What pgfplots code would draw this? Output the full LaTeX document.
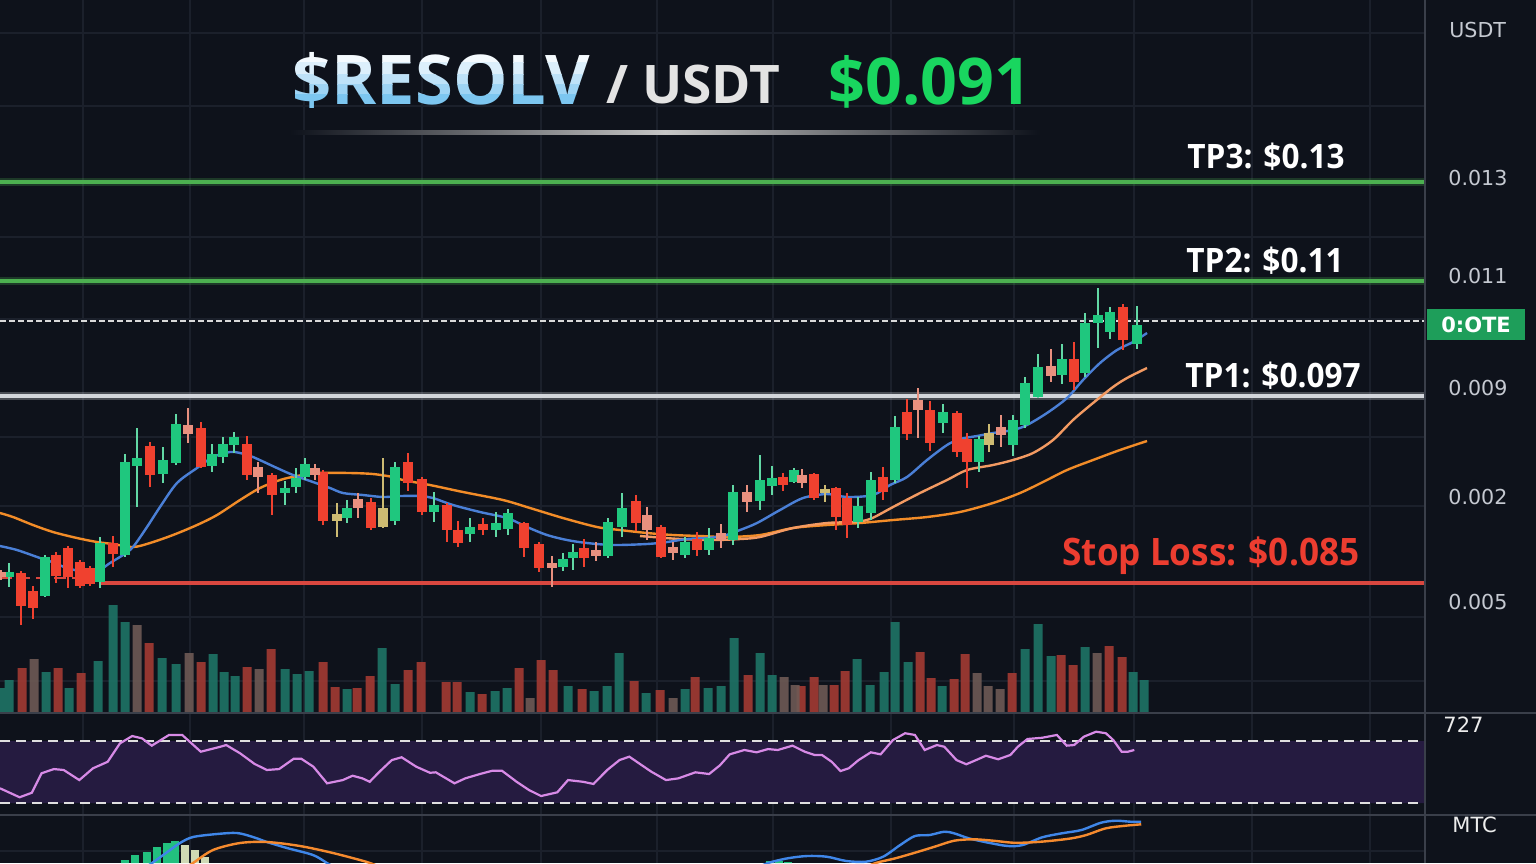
\documentclass[border=0pt]{standalone}
\usepackage{pgfplots}
\pgfplotsset{compat=1.18}
\usepackage{pgfplotstable}
\usepackage{fontspec}
\setmainfont{Open Sans}
\newfontfamily\dejavu{DejaVu Sans}

\definecolor{bg}{HTML}{0E121B}
\definecolor{gridc}{HTML}{1B202B}
\definecolor{sepc}{HTML}{3A3F4A}
\definecolor{cgreen}{HTML}{1FC77E}
\definecolor{cred}{HTML}{F0412F}
\definecolor{csalmon}{HTML}{E8907F}
\definecolor{ctan}{HTML}{CDBB72}
\definecolor{vteal}{HTML}{1E7466}
\definecolor{vred}{HTML}{A33A33}
\definecolor{vbrown}{HTML}{6E5A55}
\definecolor{mablue}{HTML}{4A7FD6}
\definecolor{maorange}{HTML}{F28C28}
\definecolor{mamid}{HTML}{F39A62}
\definecolor{tpgreen}{HTML}{4CB050}
\definecolor{tpwhite}{HTML}{D3D6DB}
\definecolor{slred}{HTML}{D9473F}
\definecolor{rsiline}{HTML}{D78AE6}
\definecolor{rsiband}{HTML}{251B40}
\definecolor{macdblue}{HTML}{3F86E8}
\definecolor{macdorange}{HTML}{F58A2E}
\definecolor{histg}{HTML}{22C07E}
\definecolor{histp}{HTML}{CFD9B4}
\definecolor{axtext}{HTML}{C5C9D1}
\definecolor{tb1}{HTML}{F4FAFE}
\definecolor{tb2}{HTML}{DCEFFB}
\definecolor{tb3}{HTML}{BEE2F8}
\definecolor{tb4}{HTML}{9ED4F4}
\definecolor{tb5}{HTML}{7CC6F0}
\definecolor{pricegreen}{HTML}{19D65F}
\definecolor{otegreen}{HTML}{1E9E5A}
\definecolor{sltext}{HTML}{EC3D30}

% candles: x, wick top, wick bottom, body top, body bottom (pixel rows, y grows downward)
\pgfplotstableread{
x wt wb bt bb
9 563 587 572 577
45 555 597 557 596
100 537 588 543 582
125 454 557 462 555
137 428 507 458 466
163 447 483 460 474
176 414 465 424 463
212 444 472 454 466
223 437 463 444 457
234 432 453 437 445
285 481 505 488 493
296 468 493 478 487
305 458 480 464 477
347 500 523 508 518
395 462 525 467 521
434 492 522 505 512
470 518 542 527 534
496 512 537 523 530
508 509 535 513 529
563 553 571 559 567
573 544 570 552 558
608 518 558 522 556
622 493 537 508 527
685 537 558 542 555
709 528 555 538 550
733 485 545 492 540
760 455 510 480 501
772 466 495 478 486
794 468 483 470 482
858 497 528 506 522
871 472 520 480 513
895 416 483 427 480
943 404 433 412 423
979 436 472 439 462
1013 415 456 420 445
1025 377 428 383 425
1038 354 398 367 397
1062 344 384 359 375
1085 313 377 323 373
1098 288 348 315 323
1110 307 339 312 332
1137 306 349 325 344
}\greencandles
\pgfplotstableread{
x wt wb bt bb
21 571 625 573 606
33 586 619 591 608
56 552 583 555 576
68 546 588 548 577
80 560 588 562 586
90 566 586 568 584
113 536 567 543 554
150 442 487 446 475
201 422 468 428 467
247 436 480 444 475
272 473 515 475 495
323 470 525 472 521
371 498 530 502 528
408 453 491 462 483
422 477 515 479 512
447 503 542 505 530
458 521 547 530 543
483 518 535 524 530
524 522 557 523 548
539 542 572 544 568
584 539 567 548 558
636 495 531 501 523
661 525 558 527 557
697 532 556 539 550
783 473 491 477 485
814 473 500 474 498
836 487 530 488 517
847 493 538 498 525
883 467 500 477 492
907 399 440 412 434
930 401 451 410 443
957 411 457 413 452
967 433 488 439 462
1074 342 390 359 382
1123 304 350 307 340
}\redcandles
\pgfplotstableread{
x wt wb bt bb
1 570 580 572 577
188 408 443 425 434
258 462 493 467 477
315 464 480 468 475
358 493 518 499 508
552 556 587 563 568
596 542 561 550 556
647 507 540 515 530
673 542 560 547 553
721 524 548 533 540
747 485 512 492 502
802 469 488 475 483
918 388 438 400 410
1001 415 447 427 435
1051 349 382 366 376
}\salmoncandles
\pgfplotstableread{
x wt wb bt bb
337 503 537 514 521
383 458 528 508 527
825 485 502 489 493
989 424 452 433 445
}\tancandles

% volume: x, height (pixels)
\pgfplotstableread{
x v
0 24
9 32
46 40
69 24
98 51
113 107
125 90
162 54
176 48
213 58
224 40
235 36
285 43
297 38
309 41
347 23
382 64
395 28
470 20
495 21
507 24
568 26
594 21
607 26
619 59
646 19
685 23
708 24
721 26
734 74
760 59
772 37
857 53
870 27
884 40
895 90
908 50
942 26
1025 63
1038 88
1051 56
1085 65
1133 40
1144 32
}\volteal
\pgfplotstableread{
x v
22 44
58 44
81 39
149 69
201 50
247 45
271 63
323 50
335 25
357 24
370 36
408 42
421 50
446 30
457 30
482 18
519 44
541 52
553 42
582 23
634 31
660 22
695 35
748 37
801 26
814 35
834 27
845 41
920 60
931 34
954 33
965 58
1012 39
1061 57
1073 47
1109 66
1122 55
}\volred
\pgfplotstableread{
x v
34 53
137 87
189 59
259 43
530 14
673 14
784 35
795 27
823 27
977 39
988 26
1000 23
1097 59
}\volbrown

\pgfplotsset{
  panel/.style={scale only axis, width=768pt, xmin=0, xmax=1536, hide axis, anchor=north west},
  wick/.style={draw=none, mark=none, error bars/.cd, y dir=plus, y explicit, error mark=none,
     error bar style={draw=#1, line width=0.8pt}},
  body/.style={draw=none, mark=none, error bars/.cd, y dir=plus, y explicit, error mark=none,
     error bar style={draw=#1, line width=4.8pt}},
}

\begin{document}
\begin{tikzpicture}
\useasboundingbox (0,0) rectangle (768pt,-431.5pt);
\fill[bg] (0,0) rectangle (768pt,-431.5pt);
% grid
\foreach \y in {33,106,237,319,437,506,617,681,777,851}
  \draw[gridc, line width=0.6pt] (0pt,{-\y/2*1pt}) -- (712.5pt,{-\y/2*1pt});
\foreach \x in {83,190,304,422,541,657,773,891,1014,1134,1252,1370}
  \draw[gridc, line width=0.6pt] ({\x/2*1pt},0pt) -- ({\x/2*1pt},-431.5pt);

% volume
\begin{axis}[panel, at={(0pt,0pt)}, height=356pt, ymin=0, ymax=712]
\addplot[ybar, bar width=4.5pt, bar shift=0pt, fill=vteal, draw=none, fill opacity=0.9] table[x=x,y=v] {\volteal};
\addplot[ybar, bar width=4.5pt, bar shift=0pt, fill=vred, draw=none, fill opacity=0.9] table[x=x,y=v] {\volred};
\addplot[ybar, bar width=4.5pt, bar shift=0pt, fill=vbrown, draw=none, fill opacity=0.9] table[x=x,y=v] {\volbrown};
\end{axis}

% price panel
\begin{axis}[panel, at={(0pt,0pt)}, height=356pt, ymin=0, ymax=712, y dir=reverse]
% level lines
\addplot[tpgreen, opacity=0.25, line width=4pt] coordinates {(0,182) (1425,182)};
\addplot[tpgreen, line width=2pt] coordinates {(0,182) (1425,182)};
\addplot[tpgreen, opacity=0.25, line width=4pt] coordinates {(0,281) (1425,281)};
\addplot[tpgreen, line width=2pt] coordinates {(0,281) (1425,281)};
\addplot[white!70!gray, line width=0.6pt, dash pattern=on 3pt off 1.5pt] coordinates {(0,321) (1425,321)};
\addplot[tpwhite, opacity=0.3, line width=4pt] coordinates {(0,396) (1425,396)};
\addplot[tpwhite, line width=2pt] coordinates {(0,396) (1425,396)};
\addplot[slred, line width=0.8pt, dash pattern=on 6pt off 3pt] coordinates {(0,578) (100,578)};
\addplot[slred, line width=2.2pt] coordinates {(100,583) (1425,583)};
% moving averages
\addplot[maorange, line width=1.2pt, smooth] coordinates {(0,513) (13,517) (33,525) (53,532) (77,538) (97,542) (113,544) (133,547) (150,543) (173,535) (197,525) (217,515) (240,500) (260,488) (280,480) (297,476) (317,473) (350,473) (373,474) (393,477) (403,480) (430,485) (463,492) (503,500) (530,508) (563,518) (597,527) (620,530) (647,533) (673,535) (700,536) (727,537) (760,535) (793,528) (827,525) (860,523) (893,520) (927,517) (960,512) (993,503) (1020,493) (1043,482) (1067,470) (1093,460) (1120,450) (1147,441)};
\addplot[mamid, line width=1.2pt, smooth] coordinates {(640,536) (680,539) (713,540) (740,539) (760,537) (793,528) (827,523) (853,522) (870,519) (893,507) (920,493) (947,480) (967,470) (993,465) (1013,460) (1033,453) (1053,440) (1073,420) (1093,403) (1113,387) (1127,378) (1147,368)};
\addplot[mablue, line width=1.2pt, smooth] coordinates {(0,546) (17,550) (40,558) (55,563) (67,568) (90,573) (100,570) (110,563) (123,555) (133,547) (147,527) (160,507) (177,483) (197,468) (213,457) (230,452) (240,453) (253,457) (277,468) (293,475) (313,482) (330,488) (343,493) (363,495) (383,497) (400,496) (423,496) (433,498) (453,505) (480,512) (507,518) (527,527) (547,535) (567,540) (587,543) (613,545) (647,544) (667,542) (687,539) (707,538) (723,536) (740,530) (757,523) (780,510) (803,498) (827,494) (847,497) (873,495) (890,485) (907,477) (927,460) (947,445) (960,439) (977,436) (993,433) (1013,430) (1027,425) (1047,413) (1067,398) (1083,380) (1100,363) (1117,350) (1133,342) (1147,333)};
% candles
\addplot[wick=cgreen!70!white] table[x=x, y=wt, y error plus expr=\thisrow{wb}-\thisrow{wt}] {\greencandles};
\addplot[body=cgreen] table[x=x, y=bt, y error plus expr=\thisrow{bb}-\thisrow{bt}] {\greencandles};
\addplot[wick=cred] table[x=x, y=wt, y error plus expr=\thisrow{wb}-\thisrow{wt}] {\redcandles};
\addplot[body=cred] table[x=x, y=bt, y error plus expr=\thisrow{bb}-\thisrow{bt}] {\redcandles};
\addplot[wick=csalmon] table[x=x, y=wt, y error plus expr=\thisrow{wb}-\thisrow{wt}] {\salmoncandles};
\addplot[body=csalmon] table[x=x, y=bt, y error plus expr=\thisrow{bb}-\thisrow{bt}] {\salmoncandles};
\addplot[wick=ctan] table[x=x, y=wt, y error plus expr=\thisrow{wb}-\thisrow{wt}] {\tancandles};
\addplot[body=ctan] table[x=x, y=bt, y error plus expr=\thisrow{bb}-\thisrow{bt}] {\tancandles};
\end{axis}

% RSI panel
\begin{axis}[panel, at={(0pt,-356.5pt)}, height=51pt, ymin=22.26, ymax=88.06]
\addplot[fill=rsiband, draw=none] coordinates {(0,30) (1425,30) (1425,70) (0,70) (0,30)};
\addplot[white!75!gray, line width=0.8pt, dash pattern=on 5pt off 3pt] coordinates {(0,70) (1425,70)};
\addplot[white!75!gray, line width=0.8pt, dash pattern=on 5pt off 3pt] coordinates {(0,30) (1425,30)};
\addplot[rsiline, line width=1.1pt] coordinates {(0,39.5) (19.6,33.7) (31.8,36.6) (41.6,49.2) (53.9,51.9) (63.7,51.3) (79.3,44.8) (93,52.4) (107.7,56.6) (120,68.5) (132.2,73.2) (142,71.7) (151.8,67.0) (169,73.9) (182.2,73.9) (200.8,63.1) (220.4,66.3) (226.2,67.4) (240,62.1) (254.6,55.2) (266.9,51.3) (279.1,51.9) (293.8,58.6) (301.2,58.6) (313.4,53.4) (327.1,42.7) (342.8,44.8) (352.6,47.6) (362.4,45.9) (369.7,43.7) (379.5,50.2) (391.8,57.7) (401.6,59.5) (416.3,53.4) (430,49.5) (435.8,49.8) (454.5,42.7) (465.2,45.9) (479.9,48.7) (492.2,50.8) (502,50.8) (516.6,43.7) (528.9,38.4) (541.1,34.5) (557.3,36.9) (568,44.8) (582.8,43.7) (593.5,42.3) (607.2,51.3) (619.5,57.7) (629.3,59.9) (641.5,54.5) (651.3,50.2) (666,44.8) (678.3,45.9) (695.4,49.8) (709.1,48.7) (719.9,54.3) (729.7,61.4) (744.4,64.2) (756.6,62.7) (768,64.8) (777.8,64.2) (792.5,67.0) (804.7,63.1) (814.5,61.0) (821.9,61.0) (831.7,56.6) (840.5,50.6) (848.8,52.4) (858.6,57.7) (870.8,62.7) (880.6,61.4) (892.9,70.6) (905.1,75.0) (914.9,73.9) (924.7,64.2) (936.9,67.4) (944.3,66.3) (956.5,57.7) (966.3,55.0) (976.1,57.7) (985.9,60.5) (998.2,58.2) (1010.4,61.0) (1017.8,66.3) (1027.5,71.3) (1042.2,72.1) (1056.9,73.9) (1066.7,67.0) (1074.1,67.4) (1083.9,72.8) (1096.1,76.0) (1105.9,75.0) (1113.3,70.6) (1121.6,63.1) (1127.9,63.1) (1134.3,64.2)};
\end{axis}

% MACD panel
\begin{axis}[panel, at={(0pt,-407.5pt)}, height=24pt, ymin=0, ymax=48]
\addplot[ybar, bar width=3.8pt, bar shift=0pt, fill=histg, draw=none] coordinates {(125,3) (135,8) (147,11) (157,16) (167,20) (175,22) (770,2) (779,2) (788,1)};
\addplot[ybar, bar width=3.8pt, bar shift=0pt, fill=histp, draw=none] coordinates {(185,18) (195,13) (205,6)};
\addplot[macdblue, line width=1.2pt, smooth] coordinates {(140,-8) (152,0) (166,10) (180,20) (193,26) (217,29) (237,30) (253,26) (267,21) (287,15) (313,8) (327,0) (340,-8)};
\addplot[macdorange, line width=1.2pt, smooth] coordinates {(180,-8) (193,0) (213,13) (240,20) (267,21) (300,17) (333,10) (367,1) (380,-4)};
\addplot[macdblue, line width=1.2pt, smooth] coordinates {(755,-6) (768,0) (787.6,4.7) (807.2,7) (826.8,6.3) (846.4,2) (865.9,1.3) (883.1,6.3) (900.2,18) (914.9,27) (929.6,28) (944.3,31.3) (954.1,29.7) (968.8,24.7) (988.4,20.3) (1008,17) (1022.6,18) (1042.2,25.7) (1061.8,29.7) (1081.4,33) (1101,40.3) (1115.7,42.3) (1130.4,41.3) (1141.2,41.3)};
\addplot[macdorange, line width=1.2pt, smooth] coordinates {(862,-6) (875.7,0) (895.3,4.7) (914.9,10.3) (934.6,16.3) (954.1,22.3) (973.7,23.7) (993.3,22.3) (1012.9,20.3) (1032.4,20.7) (1052,22.3) (1071.6,24.7) (1086.3,28) (1105.9,34.7) (1125.5,37.3) (1141.2,38.7)};
\end{axis}

% right-hand labels
\node[anchor=base west, inner sep=0pt, text=white!85!gray, font=\dejavu\fontsize{10.5}{12}\selectfont] at (721.5pt,-366pt) {727};
\node[anchor=base west, inner sep=0pt, text=white!85!gray, font=\dejavu\fontsize{10.5}{12}\selectfont] at (726pt,-416pt) {MTC};
\fill[bg] (713pt,-398pt) rectangle (768pt,-407.5pt);

% separators
\draw[sepc, line width=1.1pt] (712.5pt,0pt) -- (712.5pt,-431.5pt);
\draw[sepc, line width=1.1pt] (0pt,-356.5pt) -- (768pt,-356.5pt);
\draw[sepc, line width=1.1pt] (0pt,-407.5pt) -- (768pt,-407.5pt);

\begin{scope}[every node/.style={anchor=west, inner sep=0pt, text=axtext, font=\dejavu\fontsize{10.3}{12}\selectfont}]
\node at (724.5pt,-15pt) {USDT};
\node at (724pt,-89pt) {0.013};
\node at (724pt,-138pt) {0.011};
\node at (724pt,-194pt) {0.009};
\node at (724pt,-248.5pt) {0.002};
\node at (724pt,-301pt) {0.005};
\end{scope}
\fill[otegreen] (713.5pt,-154.5pt) rectangle (762.5pt,-170pt);
\node[inner sep=0pt, text=white, font=\dejavu\bfseries\fontsize{10.5}{12}\selectfont] at (738pt,-162.25pt) {0:OTE};

% title: "$RESOLV" with a white-to-blue vertical gradient (colour bands)
\foreach \ya/\yb/\tc in {-18/-31/tb1, -31/-37/tb2, -37/-42/tb3, -42/-47/tb4, -47/-62/tb5}{
  \begin{scope}
  \clip (140pt,\ya pt) rectangle (305pt,\yb pt);
  \node[anchor=base west, inner sep=0pt, text=\tc, font=\fontsize{34.3}{38}\selectfont\bfseries] at (146pt,-52pt) {\$RESOLV};
  \end{scope}
}
\node[anchor=base west, inner sep=0pt, text=white!78!gray, font=\fontsize{26.6}{30}\selectfont\bfseries] at (303pt,-51.5pt) {/ USDT};
\node[anchor=base west, inner sep=0pt, text=pricegreen, font=\fontsize{32.3}{36}\selectfont\bfseries] at (414pt,-52pt) {\$0.091};
\shade[left color=bg, right color=bg, middle color=white!55!gray] (145pt,-65pt) rectangle (520pt,-67pt);

% level labels
\begin{scope}[every node/.style={anchor=base west, inner sep=0pt, text=white, xscale=0.94, font=\fontsize{16.8}{19}\selectfont\bfseries}]
\node at (593.5pt,-84pt) {TP3: \$0.13};
\node at (593pt,-136pt) {TP2: \$0.11};
\node at (592.5pt,-193.5pt) {TP1: \$0.097};
\end{scope}
\node[anchor=base west, inner sep=0pt, text=sltext, font=\fontsize{18.9}{21}\selectfont\bfseries, xscale=0.93] at (531pt,-282.5pt) {Stop Loss: \$0.085};
\end{tikzpicture}
\end{document}
